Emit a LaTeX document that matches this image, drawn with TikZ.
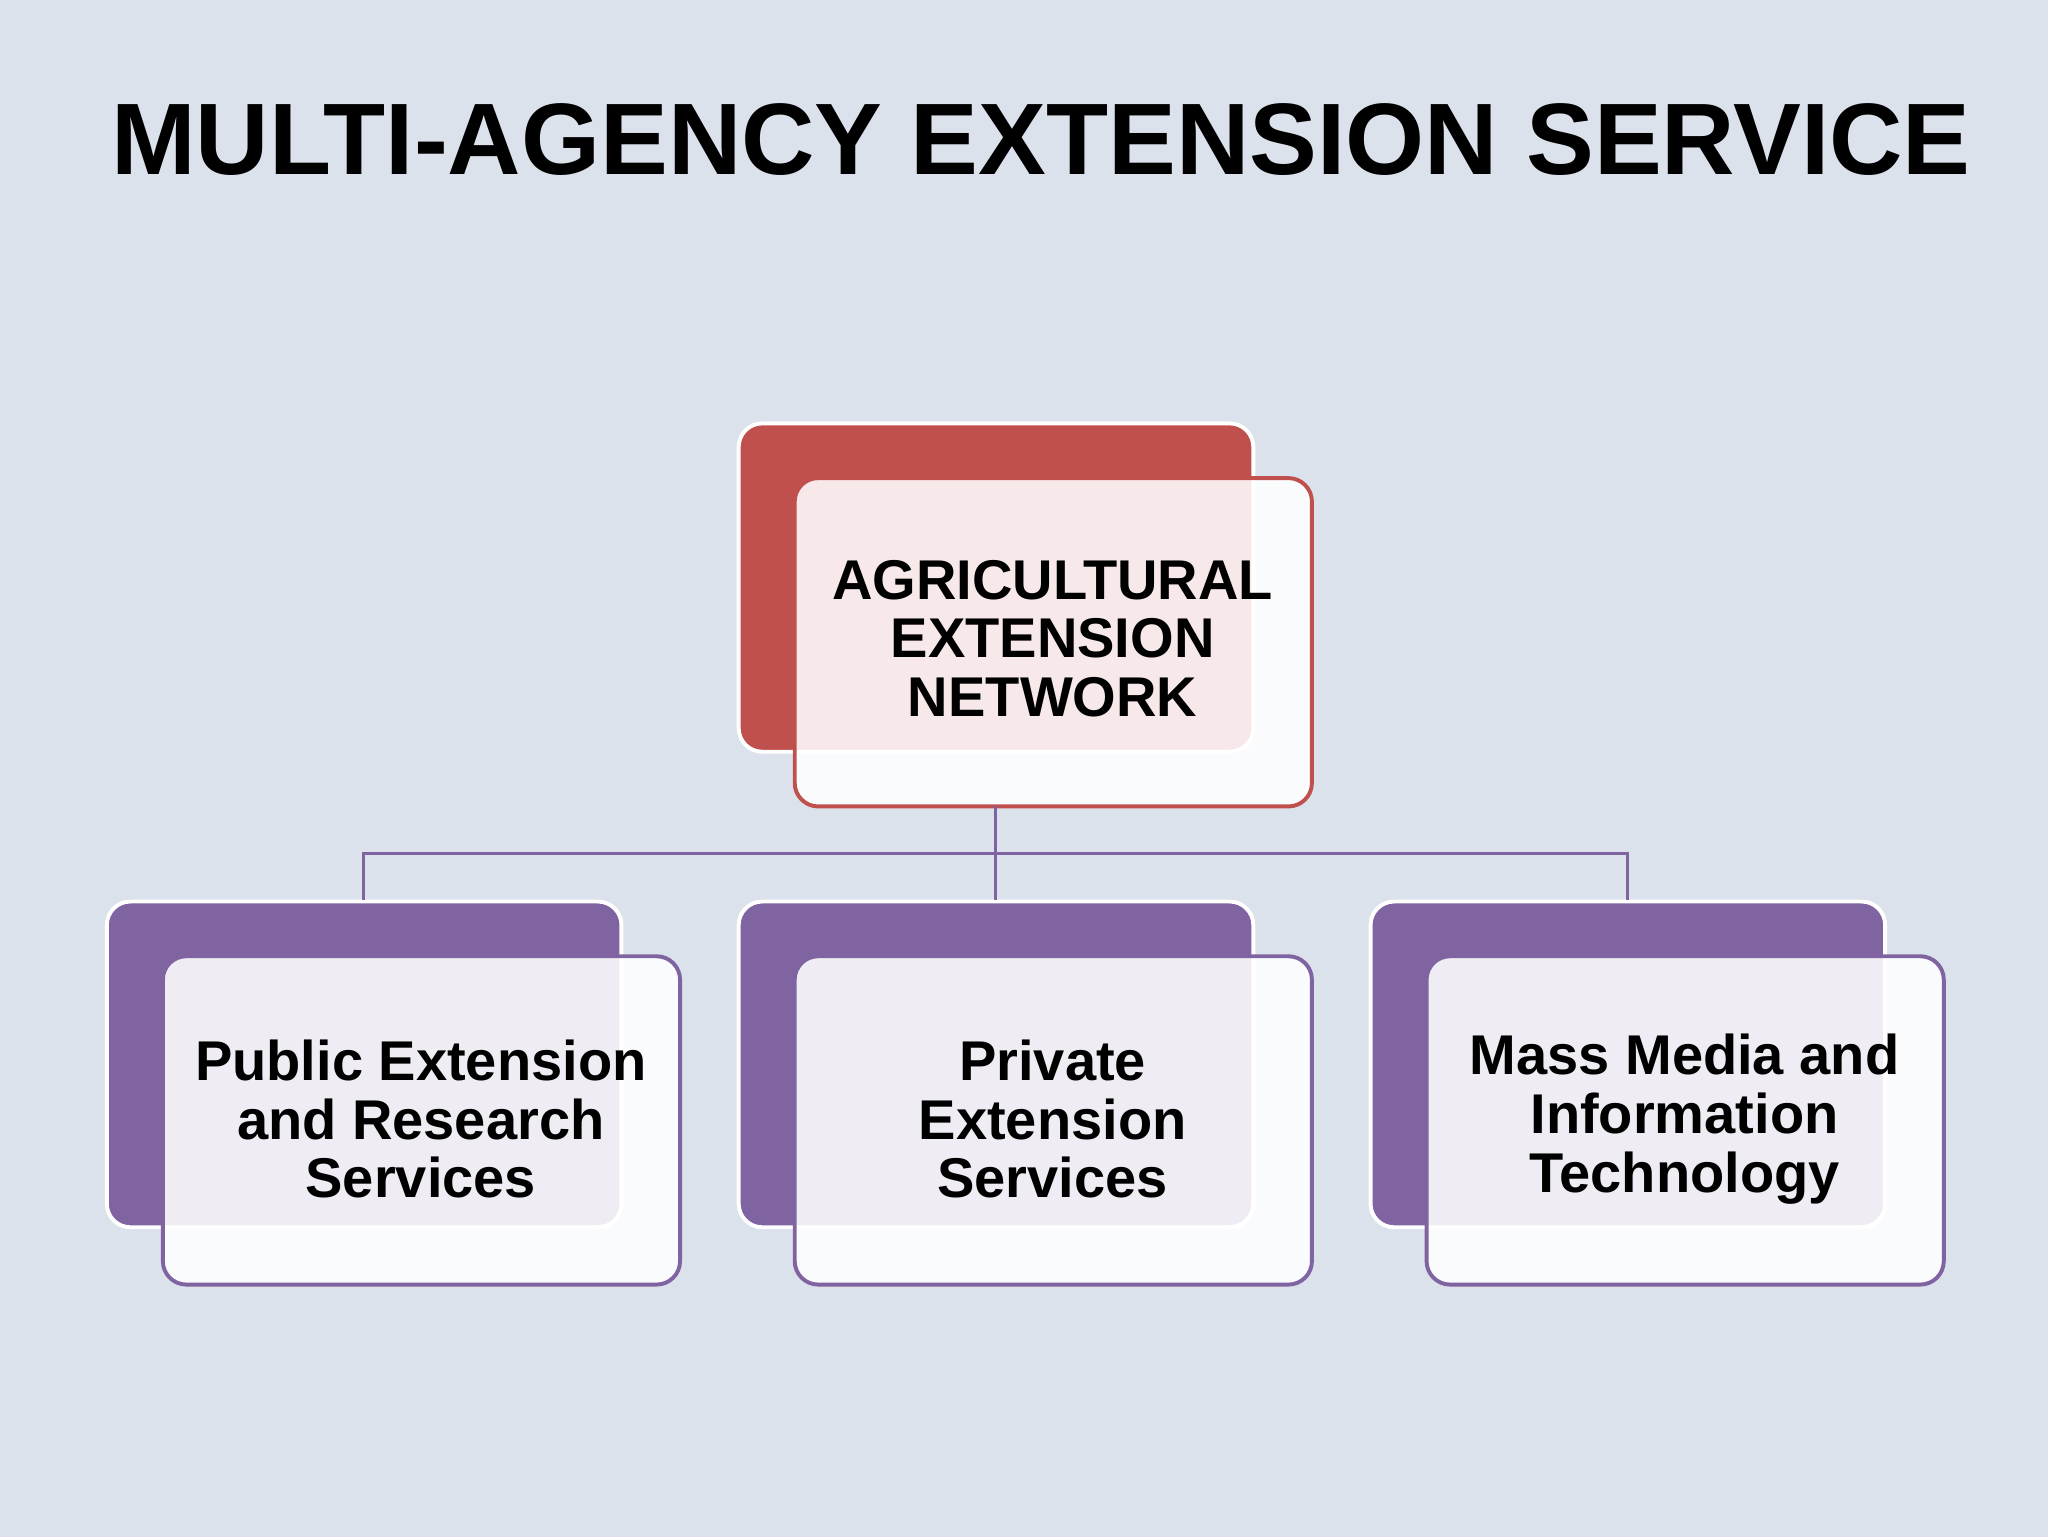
\documentclass[tikz,border=0pt]{standalone}
\usepackage{fontspec}
\setmainfont{Liberation Sans}
\definecolor{bg}{HTML}{DCE2EB}
\definecolor{redc}{HTML}{C0504D}
\definecolor{purc}{HTML}{8064A2}
\begin{document}
\begin{tikzpicture}[x=1pt,y=-1pt,
  back/.style={draw=white,line width=3pt,rounded corners=18pt},
  front/.style={fill=white,fill opacity=0.88,line width=3pt,rounded corners=18pt},
  lbl/.style={font=\bfseries\fontsize{43}{45}\selectfont,align=center,text=black},
  conn/.style={draw=purc,line width=2.5pt}]
\fill[bg] (-2,-2) rectangle (1570,1178);
\useasboundingbox (0,0) rectangle (1568,1176);
\node[font=\bfseries\fontsize{78}{80}\selectfont] (title) at (797,105) {MULTI-AGENCY EXTENSION SERVICE};
\coordinate (jl) at (277,653);
\coordinate (jr) at (1247,653);
\draw[back,fill=redc] (565,323) rectangle (960,575);
\draw[front,draw=redc] (608,365) rectangle (1005,617);
\node[lbl] (top) at (806,488) {AGRICULTURAL\\EXTENSION\\NETWORK};
\foreach \dx in {0,485,970}{
  \draw[back,fill=purc] (80+\dx,690) rectangle (475+\dx,940);
  \draw[front,draw=purc] (123+\dx,732) rectangle (520+\dx,984);
}
\coordinate (tb) at (762,617);
\coordinate (lt) at (277,689);
\coordinate (mt) at (762,689);
\coordinate (rt) at (1247,689);
\draw[conn] (tb) -- (mt);
\draw[conn] (lt) -- (jl) -- (jr) -- (rt);
\node[lbl] (pub) at (321,857) {Public Extension\\and Research\\Services};
\node[lbl] (priv) at (806,857) {Private\\Extension\\Services};
\node[lbl] (mass) at (1291,857) {Mass Media and\\Information\\Technology};
\end{tikzpicture}
\end{document}
